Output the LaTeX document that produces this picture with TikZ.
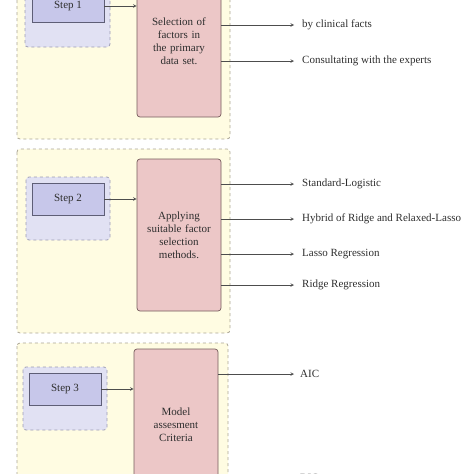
\documentclass[tikz,border=0pt]{standalone}
\usepackage{fontspec}
\setmainfont{Liberation Serif}
\usetikzlibrary{arrows}

\definecolor{panelfill}{HTML}{FFFCE2}
\definecolor{panelline}{HTML}{ABA594}
\definecolor{lavfill}{HTML}{E1E1F3}
\definecolor{lavline}{HTML}{9C9CB2}
\definecolor{stepfill}{HTML}{C7C7EA}
\definecolor{stepline}{HTML}{5E5E76}
\definecolor{pinkfill}{HTML}{ECC7C7}
\definecolor{pinkline}{HTML}{765C5C}
\definecolor{inkgray}{HTML}{2E2E2E}

\begin{document}
\begin{tikzpicture}%
        [x=1pt, y=-1pt,
        font=\fontsize{11}{13}\selectfont, text=inkgray,
        panel/.style={draw=panelline, fill=panelfill, dashed, line width=0.8pt, rounded corners=3pt},
        stepbg/.style={draw=lavline, fill=lavfill, dashed, line width=0.8pt, rounded corners=3pt},
        stepbox/.style={draw=stepline, fill=stepfill, line width=0.7pt, minimum width=72pt, minimum height=32pt, inner sep=0pt},
        taskbox/.style={draw=pinkline, fill=pinkfill, line width=0.7pt, rounded corners=3pt, minimum width=84pt, minimum height=152pt, text width=82pt, align=center, inner sep=0pt},
        outlabel/.style={anchor=west, inner sep=0pt},
        link/.style={draw=inkgray!85, line width=0.6pt, ->, >=stealth}]

    \clip (0,0) rectangle (474,474);
    \useasboundingbox (0,0) rectangle (474,474);

    %% Drawing the panels
    \draw[panel] (17,-45) rectangle (230,139);
    \draw[panel] (17,149) rectangle (230,333);
    \draw[panel] (17,343) rectangle (228,527);

    \draw[stepbg] (25,-17) rectangle (110,47);
    \draw[stepbg] (26,177) rectangle (110,240);
    \draw[stepbg] (23,367) rectangle (107,430);

    %%
    %% Drawing the steps
    %%
    \node[stepbox] (step1) at (68,6) {Step 1};
    \node[stepbox] (step2) at (68,199) {Step 2};
    \node[stepbox] (step3) at (65,389) {Step 3};

    \node[taskbox] (task1) at (179,41) {Selection of\\ factors in\\ the primary\\ data set.};
    \node[taskbox] (task2) at (179,235) {Applying\\ suitable factor\\ selection\\ methods.};
    \node[taskbox] (task3) at (176,425) {Model\\ assesment\\ Criteria};

    \draw[link] (step1.east) -- (step1.east -| task1.west);
    \draw[link] (step2.east) -- (step2.east -| task2.west);
    \draw[link] (step3.east) -- (step3.east -| task3.west);

    %%
    %% Drawing the outcomes
    %%
    \node[outlabel] (facts) at (302,25) {by clinical facts};
    \node[outlabel] (experts) at (302,61) {Consultating with the experts};
    \node[outlabel] (logit) at (302,184) {Standard-Logistic};
    \node[outlabel] (hybrid) at (302,219) {Hybrid of Ridge and Relaxed-Lasso};
    \node[outlabel] (lasso) at (302,254) {Lasso Regression};
    \node[outlabel] (ridge) at (302,285) {Ridge Regression};
    \node[outlabel] (aic) at (300,374) {AIC};
    \node[outlabel] (bic) at (300,478) {BIC};

    \draw[link] (task1.east |- facts.west) -- ([xshift=-8pt]facts.west);
    \draw[link] (task1.east |- experts.west) -- ([xshift=-8pt]experts.west);
    \draw[link] (task2.east |- logit.west) -- ([xshift=-8pt]logit.west);
    \draw[link] (task2.east |- hybrid.west) -- ([xshift=-8pt]hybrid.west);
    \draw[link] (task2.east |- lasso.west) -- ([xshift=-8pt]lasso.west);
    \draw[link] (task2.east |- ridge.west) -- ([xshift=-8pt]ridge.west);
    \draw[link] (task3.east |- aic.west) -- ([xshift=-6pt]aic.west);
    \draw[link] (task3.east |- bic.west) -- ([xshift=-6pt]bic.west);
    %%
    %%
    \end{tikzpicture}
\end{document}
